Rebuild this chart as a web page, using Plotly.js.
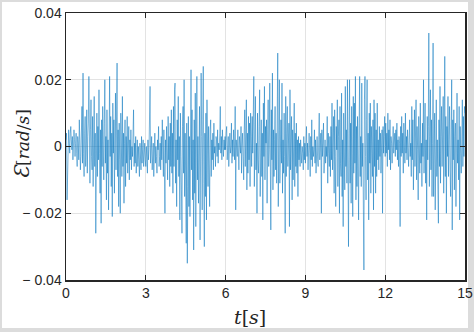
<!DOCTYPE html>
<html>
<head>
<meta charset="utf-8">
<script src="https://cdn.plot.ly/plotly-3.0.1.min.js"></script>
<style>
html,body{margin:0;padding:0;background:#dcdcdc;width:474px;height:332px;overflow:hidden;}
#chart{position:absolute;left:0;top:0;width:474px;height:332px;}
</style>
</head>
<body>
<div id="chart"></div>
<script>
// sampling step of the signal (s)
const dt = 0.02;
// angular velocity error, in units of 1e-3 rad/s
const epsMilli = [
 2,4,-16,-3,3,5,1,-2,4,6, 2,-1,3,-4,0,5,2,-3,1,4,
 -2,-6,3,1,-4,8,2,-7,-3,6, 12,-5,22,-2,-9,4,9,-6,-1,11,
 -8,3,7,21,-4,-11,5,14,-3,-7,
 9,-12,2,15,-6,4,-26,1,10,-9, 6,-4,17,-2,-14,5,-23,8,-6,12,
 -1,-10,7,20,-5,3,-16,11,-8,2, -19,6,21,-3,9,-12,4,-21,13,-2,
 8,-14,1,16,-7,3,25,-9,5,-18,
 7,-4,-20,10,2,-9,15,-6,4,-17, 1,8,-12,3,-5,9,-8,-2,6,-10,
 2,-4,5,-7,0,-3,4,11,-6,1, -5,3,-8,-1,2,-6,0,-4,-9,1,
 -2,-7,3,-5,-1,2,-6,-3,1,-4,
 -6,0,-3,-8,2,-4,-1,5,18,-5, -2,3,-7,-4,1,-9,-2,4,-5,0,
 -3,-8,2,-1,6,-6,-3,1,-7,3, -4,8,-2,-9,5,-3,-20,2,-5,6,
 -1,-10,9,-4,3,-12,7,-6,11,-8,
 4,-14,12,-6,17,19,-11,2,-18,8, -4,15,-9,3,-22,10,-3,-13,-26,6,
 12,-8,20,-15,4,-10,-29,7,-35,-12, 9,-18,3,-21,14,23,-7,11,-16,2,
 -31,8,-14,16,-24,5,21,-10,3,-17,
 6,12,-28,-5,22,3,-19,8,24,-11, -30,4,-15,10,-22,14,-6,-12,6,-3,
 -18,5,8,-9,2,-4,4,-7,7,-2, 0,-6,3,2,-3,5,-5,1,-1,4,
 12,-2,3,-4,5,0,-3,2,-1,3,
 -1,4,6,-4,1,3,-6,2,4,-2, 0,7,-5,2,-3,5,-1,-4,12,-19,
 2,-2,-3,5,1,-7,3,1,-2,6, -8,0,4,-3,-10,5,11,-6,2,14,
 -13,4,-8,9,-4,7,-12,10,3,-6,
 9,-2,6,21,-12,3,15,-7,1,-20, 10,-4,-8,6,17,-15,2,8,-9,4,
 -22,13,-3,18,-10,6,1,8,-17,5, 14,-6,-1,19,-13,-25,11,-4,22,-13,
 5,-9,2,12,-7,4,-11,9,28,-18,
 6,20,-11,3,8,-5,19,-14,2,-8, 10,-3,-26,15,-9,4,12,-6,-2,7,
 -24,17,-7,1,9,-16,5,-10,0,13, -12,4,-6,7,-8,2,-15,3,-4,1,
 -6,2,-3,-5,0,-2,-7,3,-4,1,
 -5,2,6,-3,1,-7,-2,4,-2,-9, 3,-4,8,-6,0,-3,-1,5,-5,2,
 -8,0,3,-4,-6,2,10,-4,-1,4, -20,5,-3,1,7,-8,-2,2,-5,0,
 -3,9,-11,4,-2,-6,3,-9,6,-4,
 13,-7,2,9,-14,11,-3,-18,6,-1, 14,-12,3,8,-20,12,-5,-9,16,-15,
 2,-24,10,-4,-13,18,-6,5,-11,20, -8,-30,4,20,-11,7,-17,12,-2,-21,
 15,-8,13,-5,21,-16,6,-12,9,-4,
 -22,7,21,-9,3,-12,19,-6,1,-19, -37,14,21,-3,-16,8,20,-10,4,-22,
 10,-5,13,-14,6,-2,-9,8,-19,14, -6,10,-14,5,-9,13,-4,2,-7,6,
 -3,4,-8,1,5,-20,6,-2,3,9,
 -3,7,-2,4,-6,10,-1,5,-4,8, -7,3,1,-5,2,6,-2,0,4,-3,
 5,-1,7,-4,2,-6,3,1,-24,6, -3,9,-2,4,-8,7,1,-5,10,-2,
 3,-4,5,0,-6,2,8,-3,1,-9,
 12,-4,8,-13,3,11,-6,2,14,-10, 6,-1,-16,9,4,-8,13,-5,1,-12,
 7,-3,20,-8,5,13,-11,2,-22,9, -4,6,34,-12,3,17,-7,8,-15,1,
 31,-15,4,10,-19,6,14,-9,2,-13,
 -23,8,-6,18,-11,3,12,-6,1,15, -14,4,27,-9,9,-20,6,-3,15,-9,
 2,12,-7,-15,5,20,-25,8,-4,11, -13,3,7,-18,9,16,-5,2,-10,12,
 -22,6,-2,-8,4,14,-6,9,-3,12,10
];
const xTickVals = [0,3,6,9,12,15];
const xTickText = ['0','3','6','9','12','15'];
const yTickVals = [-0.04,-0.02,0,0.02,0.04];
const yTickText = ['\u2212 0.04','\u2212 0.02','0','0.02','0.04'];

const t = epsMilli.map((_, i) => +(i * dt).toFixed(3));
const eps = epsMilli.map(v => v / 1000);

const axisCommon = {
  showline: true, linecolor: '#262626', linewidth: 1.5, mirror: 'ticks',
  ticks: 'inside', ticklen: 5, tickcolor: '#262626', tickwidth: 1,
  showgrid: true, gridcolor: '#e3e3e3', gridwidth: 1, zeroline: false,
  tickfont: {family: 'Liberation Sans, Arial, sans-serif', size: 14, color: '#262626'}
};

const layout = {
  width: 474, height: 332,
  margin: {l: 66, r: 9, t: 13, b: 52},
  paper_bgcolor: '#dcdcdc', plot_bgcolor: '#ffffff',
  showlegend: false,
  xaxis: Object.assign({}, axisCommon, {
    range: [0, 15], tickmode: 'array', tickvals: xTickVals, ticktext: xTickText
  }),
  yaxis: Object.assign({}, axisCommon, {
    range: [-0.04, 0.04], tickmode: 'array', tickvals: yTickVals, ticktext: yTickText
  }),
  shapes: [
    {type: 'rect', layer: 'below', xref: 'paper', yref: 'paper',
     x0: -0.1604, x1: 1.0075, y0: -0.1798, y1: 1.0412,
     fillcolor: '#ffffff', line: {width: 0}}
  ],
  annotations: [
    {text: '<i>t</i>[<i>s</i>]', xref: 'paper', yref: 'paper', x: 0.461, y: 0,
     xanchor: 'center', yanchor: 'middle', yshift: -37, showarrow: false,
     font: {family: 'DejaVu Serif, serif', size: 19, color: '#262626'}},
    {text: '<span style="font-size:21px"><i>Ɛ</i></span>[<i>rad</i>/<i>s</i>]', xref: 'paper', yref: 'paper', x: 0, y: 0.509,
     xanchor: 'center', yanchor: 'middle', xshift: -44, textangle: -90, showarrow: false,
     font: {family: 'DejaVu Serif, serif', size: 17, color: '#262626'}}
  ]
};

Plotly.newPlot('chart', [{
  x: t, y: eps, type: 'scatter', mode: 'lines',
  line: {color: '#0072BD', width: 0.5}
}], layout, {displayModeBar: false, staticPlot: true});
</script>
</body>
</html>
